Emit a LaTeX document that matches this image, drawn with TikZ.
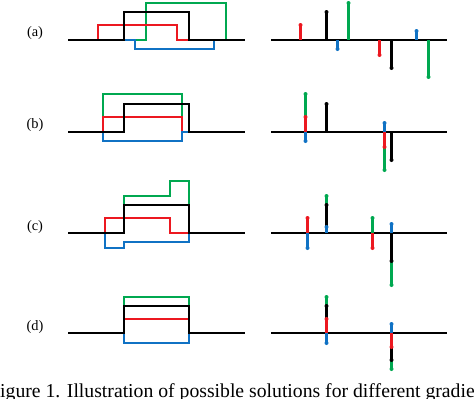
\documentclass[tikz,border=0pt]{standalone}
\usepackage{fontspec}
\setmainfont{Liberation Serif}
\definecolor{sred}{RGB}{236,24,32}
\definecolor{sgreen}{RGB}{0,168,80}
\definecolor{sblue}{RGB}{16,114,196}
\tikzset{
    sig/.style={line width=2.6pt},
    axis/.style={line width=2.8pt, black},
    stem/.style={line width=2.2pt},
}
\begin{document}
\begin{tikzpicture}[x=1pt,y=-1pt]
        \useasboundingbox (0,0) rectangle (474,399);
        \clip (0,0) rectangle (474,399);
        % step signals (left)
        \foreach \B/\lbl in {40/a,132/b,233/c,333/d}
        {%
            \draw[axis] (271,\B) -- (447,\B);
        }%
        \node[font=\fontsize{14.4}{16}\selectfont] (lbla) at (35,33) {(a)};
        \node[font=\fontsize{14.4}{16}\selectfont] (lblb) at (35,125) {(b)};
        \node[font=\fontsize{14.4}{16}\selectfont] (lblc) at (35,227) {(c)};
        \node[font=\fontsize{14.4}{16}\selectfont] (lbld) at (35,327) {(d)};
        %
        \draw[sig,sgreen] (68,40) -| (146,3) -| (226,40) -- (245,40);
        \draw[sig,sred] (68,40) -| (98,25) -| (177,40) -- (245,40);
        \draw[sig,sblue] (68,40) -| (135,49) -| (214,40) -- (245,40);
        \draw[axis] (68,40) -| (124,12) -| (189,40) -- (245,40);
        %
        \draw[sig,sgreen] (68,132) -| (103,94) -| (182,132) -- (245,132);
        \draw[sig,sred] (68,132) -| (103,117) -| (182,132) -- (245,132);
        \draw[sig,sblue] (68,132) -| (103,141) -| (182,132) -- (245,132);
        \draw[axis] (68,132) -| (124,104) -| (189,132) -- (245,132);
        %
        \draw[sig,sgreen] (68,233) -| (124,196) -| (170,181) -| (189,233) -- (245,233);
        \draw[sig,sred] (68,233) -| (105,218) -| (170,233) -- (245,233);
        \draw[sig,sblue] (68,233) -| (105,248) -| (124,242) -| (189,233) -- (245,233);
        \draw[axis] (68,233) -| (124,205) -| (189,233) -- (245,233);
        %
        \draw[sig,sgreen] (68,333) -| (124,297) -| (189,333) -- (245,333);
        \draw[sig,sred] (68,333) -| (124,319) -| (189,333) -- (245,333);
        \draw[sig,sblue] (68,333) -| (124,343) -| (189,333) -- (245,333);
        \draw[axis] (68,333) -| (124,306) -| (189,333) -- (245,333);
        % gradients (right)
        \foreach \B/\x/\y/\c in {40/98/25/sred, 40/124/12/black, 40/135/49/sblue, 40/146/3/sgreen,
                40/177/55/sred, 40/189/68/black, 40/214/31/sblue, 40/226/77/sgreen,
                132/103/94/sgreen, 132/103/117/sred, 132/103/141/sblue, 132/124/104/black,
                132/182/170/sgreen, 132/182/147/sred, 132/182/123/sblue, 132/189/160/black,
                233/105/218/sred, 233/105/248/sblue, 233/124/196/sgreen, 233/124/205/black,
                233/124/227/sblue, 233/170/218/sgreen, 233/170/248/sred, 233/189/285/sgreen,
                233/189/261/black, 233/189/224/sblue,
                333/124/297/sgreen, 333/124/306/black, 333/124/319/sred, 333/124/343/sblue,
                333/189/369/sgreen, 333/189/360/black, 333/189/347/sred, 333/189/324/sblue}
        {%
            \draw[stem,\c] (\x+202.5,\B) -- (\x+202.5,\y);
            \fill[\c] (\x+202.5,\y) circle (2);
        }%
        %
        \node[anchor=base west, inner sep=0, font=\fontsize{19.7}{22}\selectfont] (caption) at (0,397)
            {\llap{F}igure 1. Illustration of possible solutions for different gradients.};
    \end{tikzpicture}
\end{document}
